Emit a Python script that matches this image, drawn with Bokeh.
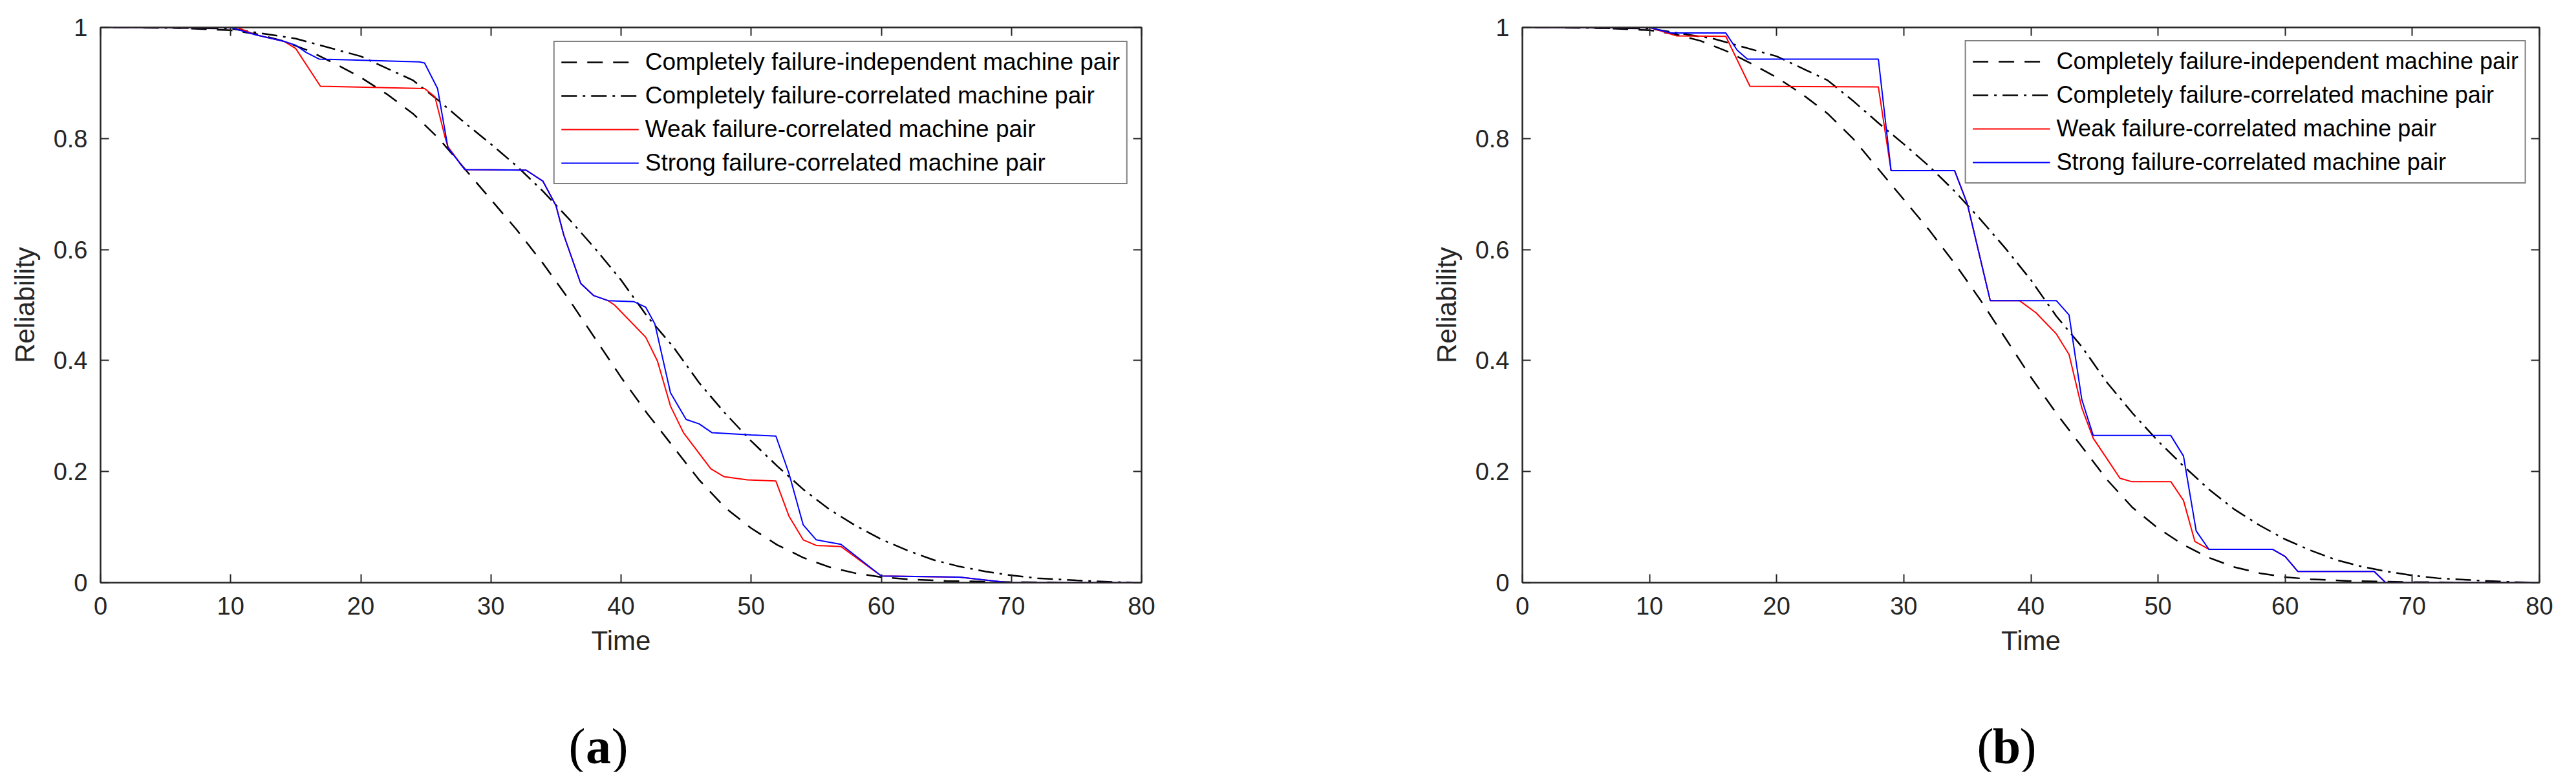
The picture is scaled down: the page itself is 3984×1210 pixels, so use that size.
from bokeh.plotting import figure
from bokeh.models import (Legend, LegendItem, LinearAxis, FixedTicker,
                          CustomJSTickFormatter, Range1d, Label)
from bokeh.layouts import row, column
from bokeh.embed import file_html
from bokeh.resources import INLINE

# ---------------- data ----------------
x_ticks = [0, 10, 20, 30, 40, 50, 60, 70, 80]
y_ticks = [0, 0.2, 0.4, 0.6, 0.8, 1.0]

series_labels = [
    "Completely failure-independent machine pair",
    "Completely failure-correlated machine pair",
    "Weak failure-correlated machine pair",
    "Strong failure-correlated machine pair",
]
panel_letters = ["a", "b"]

# completely failure-independent pair (same in both panels)
indep_t = [1, 5, 10, 12, 14, 16, 18, 20, 22, 24, 26, 28, 30, 32, 34, 36, 38, 40,
           42, 44, 46, 48, 50, 52, 54, 56, 58, 60, 62, 65, 70, 75, 80]
indep_r = [1.0, 1.0, 0.995, 0.988, 0.976, 0.958, 0.935, 0.91, 0.88, 0.845, 0.80,
           0.745, 0.69, 0.635, 0.575, 0.51, 0.44, 0.37, 0.305, 0.245, 0.185, 0.135,
           0.098, 0.068, 0.045, 0.028, 0.017, 0.010, 0.006, 0.003, 0.001, 0.0, 0.0]

# completely failure-correlated pair (same in both panels)
corr_t = [1, 10, 15, 20, 24, 26, 28, 30, 32, 34, 36, 38, 40, 42, 44, 46, 48, 50,
          52, 54, 56, 58, 60, 62, 64, 66, 68, 70, 72, 75, 78, 80]
corr_r = [1.0, 0.998, 0.98, 0.948, 0.905, 0.868, 0.828, 0.79, 0.75, 0.705, 0.655,
          0.602, 0.545, 0.48, 0.425, 0.36, 0.305, 0.255, 0.21, 0.168, 0.132, 0.103,
          0.078, 0.058, 0.041, 0.029, 0.02, 0.013, 0.008, 0.004, 0.001, 0.0]

# panel (a)
weak_a_t = [1, 10.5, 11.9, 14.1, 15.0, 16.9, 24.9, 25.7, 26.5, 26.7, 28.0, 32.7, 34.0,
            35.0, 35.6, 36.9, 37.9, 39.0, 39.5, 41.9, 42.8, 43.8, 44.8, 46.9, 47.9,
            49.7, 51.9, 52.9, 54.0, 55.0, 56.9, 60.0, 66.0, 69.8, 80]
weak_a_r = [1.0, 1.0, 0.987, 0.975, 0.962, 0.894, 0.890, 0.875, 0.80, 0.785, 0.744,
            0.743, 0.723, 0.679, 0.626, 0.539, 0.517, 0.508, 0.500, 0.442, 0.399,
            0.318, 0.27, 0.205, 0.191, 0.185, 0.183, 0.12, 0.077, 0.067, 0.065,
            0.012, 0.010, 0.0, 0.0]

strong_a_t = [1, 10, 11.9, 14.1, 15.0, 15.8, 16.8, 24.5, 24.9, 25.9, 26.7, 28.0, 32.7,
              34.0, 35.0, 35.6, 36.9, 37.9, 39.0, 41.0, 41.9, 42.6, 43.8, 45.0, 46.0,
              47.0, 50.0, 51.9, 52.9, 54.0, 55.0, 56.9, 60.0, 66.0, 69.8, 80]
strong_a_r = [1.0, 1.0, 0.987, 0.975, 0.968, 0.955, 0.943, 0.938, 0.936, 0.890, 0.783,
              0.744, 0.743, 0.723, 0.679, 0.626, 0.539, 0.517, 0.508, 0.506, 0.496,
              0.466, 0.342, 0.294, 0.286, 0.27, 0.266, 0.264, 0.197, 0.104, 0.077,
              0.069, 0.012, 0.010, 0.0, 0.0]

# panel (b)
weak_b_t = [1, 10, 12.1, 16.0, 17.9, 28.0, 29.0, 34.0, 35.0, 36.8, 39.1, 40.4, 42.0,
            43.0, 44.0, 44.9, 45.9, 47.0, 47.9, 51.0, 52.0, 52.9, 54.0, 59.0, 60.0,
            61.0, 67.0, 67.9, 80]
weak_b_r = [1.0, 1.0, 0.985, 0.984, 0.894, 0.893, 0.742, 0.742, 0.682, 0.508, 0.508,
            0.486, 0.448, 0.411, 0.315, 0.26, 0.226, 0.188, 0.182, 0.182, 0.148,
            0.074, 0.06, 0.06, 0.047, 0.02, 0.02, 0.0, 0.0]

strong_b_t = [1, 10, 11.7, 16.0, 16.9, 17.7, 28.0, 29.0, 34.0, 35.0, 36.8, 42.0, 43.0,
              44.0, 44.9, 51.0, 52.0, 53.0, 54.0, 59.0, 60.0, 61.0, 67.0, 67.9, 80]
strong_b_r = [1.0, 1.0, 0.99, 0.99, 0.959, 0.943, 0.943, 0.742, 0.742, 0.682, 0.508,
              0.508, 0.482, 0.33, 0.265, 0.265, 0.228, 0.093, 0.06, 0.06, 0.047,
              0.02, 0.02, 0.0, 0.0]

# ---------------- styling ----------------
SANS = "Liberation Sans"
SERIF = "Liberation Serif"
AX = "#262626"
TICK_FS = "38px"
LABEL_FS = "42px"
TOTAL_H = 1194
PANEL_H = 1064
CAP_H = TOTAL_H - PANEL_H


def style_axis(ax, show_labels=True):
    ax.axis_line_color = AX
    ax.axis_line_width = 2
    ax.major_tick_line_color = AX
    ax.major_tick_line_width = 2
    ax.major_tick_in = 13
    ax.major_tick_out = 0
    ax.minor_tick_line_color = None
    ax.major_label_text_font = SANS
    ax.major_label_text_color = AX if show_labels else None
    ax.axis_label_text_font = SANS
    ax.axis_label_text_font_size = LABEL_FS
    ax.axis_label_text_font_style = "normal"
    ax.axis_label_text_color = AX


def make_panel(width, bl, br, bt, bb, weak_t, weak_r, strong_t, strong_r,
               legend_fs, legend_margin):
    p = figure(width=width, height=PANEL_H,
               x_range=Range1d(0, 80), y_range=Range1d(0, 1),
               output_backend="svg", toolbar_location=None, title_location=None,
               min_border_left=bl, min_border_right=br,
               min_border_top=bt, min_border_bottom=bb,
               x_axis_label="Time", y_axis_label="Reliability")
    p.grid.visible = False
    p.outline_line_color = AX
    p.outline_line_width = 2
    p.background_fill_color = "white"
    p.border_fill_color = "white"

    xa = p.xaxis[0]
    ya = p.yaxis[0]
    xa.ticker = FixedTicker(ticks=x_ticks)
    ya.ticker = FixedTicker(ticks=y_ticks)
    for ax in (xa, ya):
        style_axis(ax)
    ya.formatter = CustomJSTickFormatter(code="return String(Math.round(tick*10)/10);")
    xa.major_label_text_font_size = TICK_FS
    ya.major_label_text_font_size = TICK_FS
    xa.major_label_standoff = 22
    ya.major_label_standoff = 20
    xa.axis_label_standoff = 14
    ya.axis_label_standoff = 18

    top = LinearAxis(ticker=FixedTicker(ticks=x_ticks))
    right = LinearAxis(ticker=FixedTicker(ticks=y_ticks))
    for ax in (top, right):
        style_axis(ax, show_labels=False)
        ax.major_label_text_font_size = "1px"
        ax.major_label_standoff = 0
    p.add_layout(top, "above")
    p.add_layout(right, "right")

    r1 = p.line(indep_t, indep_r, line_color="black", line_width=2.5, line_dash="24 16")
    r2 = p.line(corr_t, corr_r, line_color="black", line_width=2.5, line_dash="24 9 4 9")
    r3 = p.line(weak_t, weak_r, line_color="#ff0000", line_width=2)
    r4 = p.line(strong_t, strong_r, line_color="#0000ff", line_width=2)

    legend = Legend(
        items=[LegendItem(label=series_labels[i], renderers=[r])
               for i, r in enumerate([r1, r2, r3, r4])],
        location="top_right", margin=legend_margin, padding=10, spacing=10,
        glyph_width=120, glyph_height=40, label_height=40, label_standoff=10,
        label_text_font=SANS, label_text_font_size=legend_fs,
        label_text_color="black",
        border_line_color="black", border_line_width=2,
        background_fill_color="white", background_fill_alpha=1.0)
    p.add_layout(legend)
    return p


def make_caption(width, letter, cx, baseline):
    c = figure(width=width, height=CAP_H, output_backend="svg", toolbar_location=None,
               title_location=None, x_axis_type=None, y_axis_type=None, min_border=0,
               x_range=Range1d(0, 1), y_range=Range1d(0, 1))
    c.grid.visible = False
    c.outline_line_color = None
    c.background_fill_color = "white"
    c.border_fill_color = "white"
    fs = "78px"
    for txt, style, align, dx in (("(", "normal", "right", -20),
                                  (letter, "bold", "center", 0),
                                  (")", "normal", "left", 20)):
        c.add_layout(Label(x=cx + dx, y=baseline, x_units="screen", y_units="screen",
                           text=txt, text_font=SERIF, text_font_style=style,
                           text_font_size=fs, text_align=align,
                           text_baseline="alphabetic", text_color="black"))
    return c


pa = make_panel(1984, 155, 219, 42, PANEL_H - 42 - 882,
                weak_a_t, weak_a_r, strong_a_t, strong_a_r, "37px", 21)
pb = make_panel(1976, 370, 33, 40, PANEL_H - 40 - 861,
                weak_b_t, weak_b_r, strong_b_t, strong_b_r, "36px", 20)
ca = make_caption(1984, panel_letters[0], 925, 40)
cb = make_caption(1976, panel_letters[1], 1119, 40)

layout = column(row(pa, pb), row(ca, cb))
open("out.html", "w").write(file_html(layout, INLINE))
